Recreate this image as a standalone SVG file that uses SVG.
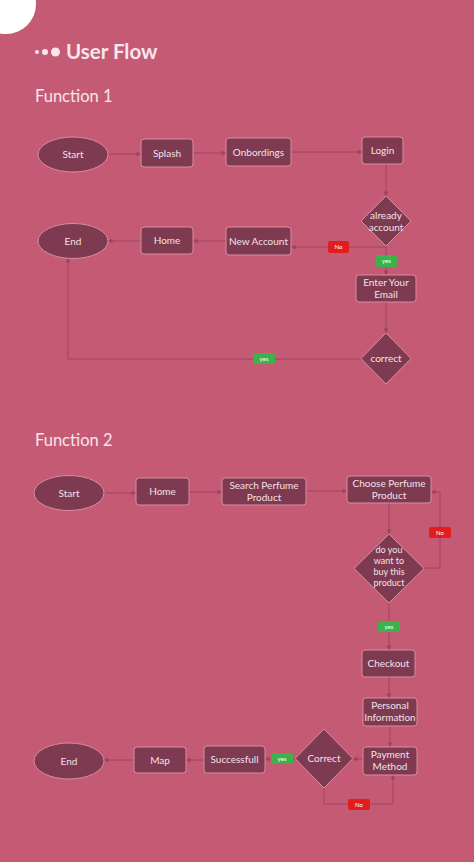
<svg xmlns="http://www.w3.org/2000/svg" width="474" height="862" viewBox="0 0 474 862">
<defs>
<marker id="arr" viewBox="0 0 6 6" refX="5.5" refY="3" markerWidth="5" markerHeight="5" orient="auto" markerUnits="userSpaceOnUse">
<path d="M0,0 L6,3 L0,6 z" fill="#9E4461"/>
</marker>
<style>
.bg{fill:#C55A75}
.n{fill:#7D3A50;stroke:#DA8CA2;stroke-width:1}
.t{fill:#F5E1E7;font-family:Lato,"Noto Sans",sans-serif;font-size:10px;text-anchor:middle}
.d{font-size:9px}
.c{fill:none;stroke:#9E4461;stroke-width:1}
.a{marker-end:url(#arr)}
.yes{fill:#3BB24A}
.no{fill:#E01E1E}
.bt{fill:#FFFFFF;font-family:Lato,sans-serif;font-size:6px;text-anchor:middle}
.h{fill:#F7E6EB;font-family:Lato,"Noto Sans",sans-serif}
</style>
</defs>
<rect class="bg" x="0" y="0" width="474" height="862"/>
<circle cx="6" cy="4" r="30" fill="#FFFFFF"/>
<g id="title">
<circle cx="37" cy="52" r="2" fill="#F7E6EB"/>
<circle cx="45" cy="52" r="3" fill="#F7E6EB"/>
<circle cx="55.5" cy="52" r="4.5" fill="#F7E6EB"/>
<text class="h" x="66" y="59" font-size="20.5" font-weight="bold">User Flow</text>
<text class="h" x="35" y="102" font-size="16.5">Function 1</text>
<text class="h" x="35" y="446" font-size="16.5">Function 2</text>
</g>
<g id="connectors">
<line class="c a" x1="108" y1="154" x2="141" y2="154"/>
<line class="c a" x1="193" y1="153" x2="226" y2="153"/>
<line class="c a" x1="291" y1="152" x2="362" y2="152"/>
<line class="c a" x1="386" y1="164" x2="386" y2="196"/>
<line class="c a" x1="386" y1="247" x2="291" y2="247"/>
<line class="c a" x1="226" y1="241" x2="193" y2="241"/>
<line class="c a" x1="141" y1="241" x2="108" y2="241"/>
<line class="c a" x1="386" y1="246" x2="386" y2="275"/>
<line class="c a" x1="386" y1="302" x2="386" y2="333"/>
<polyline class="c a" points="361,359 68,359 68,258"/>
<line class="c a" x1="104" y1="493" x2="136" y2="493"/>
<line class="c a" x1="189" y1="492" x2="222" y2="492"/>
<line class="c a" x1="306" y1="491" x2="347" y2="491"/>
<line class="c a" x1="389" y1="503" x2="389" y2="534"/>
<polyline class="c a" points="424,568 440,568 440,492 431,492"/>
<line class="c a" x1="389" y1="603" x2="389" y2="650"/>
<line class="c a" x1="389" y1="677" x2="389" y2="698"/>
<line class="c a" x1="390" y1="726" x2="390" y2="747"/>
<line class="c a" x1="363" y1="759" x2="353" y2="759"/>
<line class="c a" x1="295" y1="759" x2="265" y2="759"/>
<line class="c a" x1="204" y1="760" x2="186" y2="760"/>
<line class="c a" x1="134" y1="760" x2="104" y2="760"/>
<polyline class="c a" points="324,788 324,804 393,804 393,775"/>
<rect class="no" x="328" y="241" width="21" height="12" rx="2"/><text class="bt" x="338.5" y="249.2">No</text>
<rect class="yes" x="376" y="255" width="21" height="12" rx="2"/><text class="bt" x="386.5" y="263.2">yes</text>
<rect class="yes" x="253" y="353" width="22" height="11" rx="2"/><text class="bt" x="264" y="360.8">yes</text>
<rect class="no" x="429" y="527" width="22" height="11" rx="2"/><text class="bt" x="440" y="534.8">No</text>
<rect class="yes" x="378" y="621" width="22" height="11" rx="2"/><text class="bt" x="389" y="628.8">yes</text>
<rect class="yes" x="271" y="753" width="22" height="11" rx="2"/><text class="bt" x="282" y="760.8">yes</text>
<rect class="no" x="348" y="799" width="22" height="11" rx="2"/><text class="bt" x="359" y="806.8">No</text>
</g>
<g id="f1-start"><ellipse class="n" cx="73" cy="154.5" rx="35" ry="17.5" stroke="none"/><text class="t" x="73" y="158">Start</text></g>
<g id="f1-splash"><rect class="n" x="141" y="139" width="52" height="28" rx="3"/><text class="t" x="167" y="156.5">Splash</text></g>
<g id="f1-onbordings"><rect class="n" x="226" y="138" width="65" height="28" rx="3"/><text class="t" x="258.5" y="155.5">Onbordings</text></g>
<g id="f1-login"><rect class="n" x="362" y="137" width="41" height="27" rx="3"/><text class="t" x="382.5" y="154">Login</text></g>
<g id="f1-already"><polygon class="n" points="386,196 411,221 386,246 361,221" stroke="none"/><text class="t" x="386" y="219">already</text><text class="t" x="386" y="231">account</text></g>
<g id="f1-newaccount"><rect class="n" x="226" y="227" width="65" height="28" rx="3"/><text class="t" x="258.5" y="244.5">New Account</text></g>
<g id="f1-home"><rect class="n" x="141" y="227" width="52" height="27" rx="3"/><text class="t" x="167" y="244">Home</text></g>
<g id="f1-end"><ellipse class="n" cx="73" cy="241" rx="35" ry="17.5" stroke="none"/><text class="t" x="73" y="244.5">End</text></g>
<g id="f1-email"><rect class="n" x="356" y="275" width="60" height="27" rx="3"/><text class="t" x="386" y="286">Enter Your</text><text class="t" x="386" y="298">Email</text></g>
<g id="f1-correct"><polygon class="n" points="386,333 411,358.5 386,384 361,358.5" stroke="none"/><text class="t" x="386" y="362">correct</text></g>
<g id="f2-start"><ellipse class="n" cx="69" cy="493" rx="35" ry="17.5" stroke="none"/><text class="t" x="69" y="496.5">Start</text></g>
<g id="f2-home"><rect class="n" x="136" y="478" width="53" height="27" rx="3"/><text class="t" x="162.5" y="495">Home</text></g>
<g id="f2-search"><rect class="n" x="222" y="478" width="84" height="27" rx="3"/><text class="t" x="264" y="488.5">Search Perfume</text><text class="t" x="264" y="500.5">Product</text></g>
<g id="f2-choose"><rect class="n" x="347" y="476" width="84" height="27" rx="3"/><text class="t" x="389" y="486.5">Choose Perfume</text><text class="t" x="389" y="498.5">Product</text></g>
<g id="f2-buy"><polygon class="n" points="389,534 424,568.5 389,603 354,568.5" stroke="none"/><text class="t d" x="389" y="553">do you</text><text class="t d" x="389" y="564">want to</text><text class="t d" x="389" y="575">buy this</text><text class="t d" x="389" y="586">product</text></g>
<g id="f2-checkout"><rect class="n" x="362" y="650" width="53" height="27" rx="3"/><text class="t" x="388.5" y="667">Checkout</text></g>
<g id="f2-personal"><rect class="n" x="363" y="698" width="54" height="28" rx="3"/><text class="t" x="390" y="709">Personal</text><text class="t" x="390" y="721">Information</text></g>
<g id="f2-payment"><rect class="n" x="363" y="747" width="54" height="28" rx="3"/><text class="t" x="390" y="758">Payment</text><text class="t" x="390" y="770">Method</text></g>
<g id="f2-correct"><polygon class="n" points="324,729 353,758.5 324,788 295,758.5" stroke="none"/><text class="t" x="324" y="762">Correct</text></g>
<g id="f2-successfull"><rect class="n" x="204" y="746" width="61" height="27" rx="3"/><text class="t" x="234.5" y="763">Successfull</text></g>
<g id="f2-map"><rect class="n" x="134" y="747" width="52" height="26" rx="3"/><text class="t" x="160" y="763.5">Map</text></g>
<g id="f2-end"><ellipse class="n" cx="69" cy="761" rx="35" ry="18" stroke="none"/><text class="t" x="69" y="764.5">End</text></g>
</svg>
